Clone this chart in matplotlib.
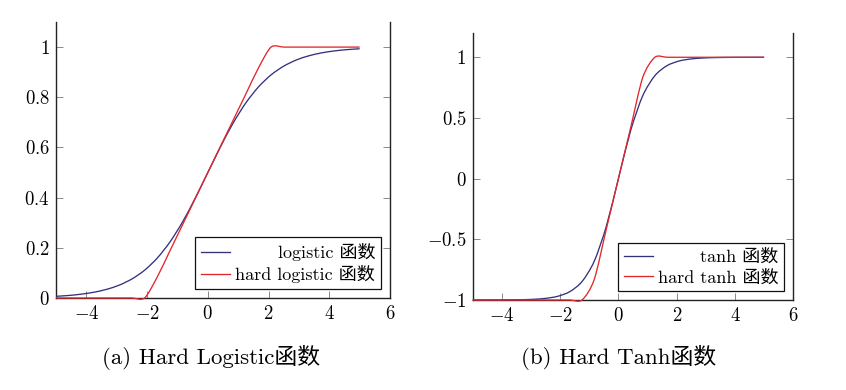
import matplotlib
matplotlib.use("Agg")
import matplotlib.pyplot as plt
from matplotlib.path import Path
from matplotlib.patches import PathPatch
from matplotlib.lines import Line2D

plt.rcParams['mathtext.fontset'] = 'cm'
plt.rcParams['font.family'] = ['cmr10', 'Noto Sans CJK SC', 'DejaVu Sans']
plt.rcParams['axes.unicode_minus'] = False

# ---- data (sample points, 25 samples on [-5, 5]) ----
x_samples = [-5.0, -4.583, -4.167, -3.75, -3.333, -2.917, -2.5, -2.083, -1.667,
             -1.25, -0.833, -0.417, 0.0, 0.417, 0.833, 1.25, 1.667, 2.083, 2.5,
             2.917, 3.333, 3.75, 4.167, 4.583, 5.0]
logistic_vals = [0.0067, 0.0101, 0.0153, 0.0230, 0.0345, 0.0513, 0.0759, 0.1107,
                 0.1589, 0.2227, 0.3029, 0.3973, 0.5, 0.6027, 0.6971, 0.7773,
                 0.8411, 0.8893, 0.9241, 0.9487, 0.9655, 0.9770, 0.9847, 0.9899,
                 0.9933]
hard_logistic_vals = [0, 0, 0, 0, 0, 0, 0, 0, 0.0833, 0.1875, 0.2917, 0.3958, 0.5,
                      0.6042, 0.7083, 0.8125, 0.9167, 1, 1, 1, 1, 1, 1, 1, 1]
tanh_vals = [-0.9999, -0.9998, -0.9995, -0.9989, -0.9975, -0.9942, -0.9866, -0.9695,
             -0.9310, -0.8483, -0.6825, -0.3942, 0.0, 0.3942, 0.6825, 0.8483,
             0.9310, 0.9695, 0.9866, 0.9942, 0.9975, 0.9989, 0.9995, 0.9998, 0.9999]
hard_tanh_vals = [-1, -1, -1, -1, -1, -1, -1, -1, -1, -1, -0.833, -0.417, 0.0,
                  0.417, 0.833, 1, 1, 1, 1, 1, 1, 1, 1, 1, 1]

x_ticks = [-4, -2, 0, 2, 4, 6]
y_ticks_a = [0, 0.2, 0.4, 0.6, 0.8, 1]
y_ticks_b = [-1, -0.5, 0, 0.5, 1]

labels_a = ['logistic 函数', 'hard logistic 函数']
labels_b = ['tanh 函数', 'hard tanh 函数']
caption_a = '(a) Hard Logistic函数'
caption_b = '(b) Hard Tanh函数'

BLUE = '#34327c'
RED = '#e3262b'
LW = 0.95


def smooth_path(xs, ys, k=0.14):
    """TikZ-like 'smooth' plot: cubic Bezier through the sample points."""
    pts = list(zip(xs, ys))
    n = len(pts)
    verts = [pts[0]]
    codes = [Path.MOVETO]
    for i in range(n - 1):
        p0 = pts[max(i - 1, 0)]
        p1 = pts[i]
        p2 = pts[i + 1]
        p3 = pts[min(i + 2, n - 1)]
        c1 = (p1[0] + k * (p2[0] - p0[0]), p1[1] + k * (p2[1] - p0[1]))
        c2 = (p2[0] - k * (p3[0] - p1[0]), p2[1] - k * (p3[1] - p1[1]))
        verts += [c1, c2, p2]
        codes += [Path.CURVE4] * 3
    return Path(verts, codes)


def fmt(v):
    return '$' + ('%g' % v) + '$'


fig = plt.figure(figsize=(8.46, 3.90), dpi=100)
axA = fig.add_axes([56 / 846, 1 - 298 / 390, (390 - 56) / 846, (298 - 22) / 390])
axB = fig.add_axes([472.7 / 846, 1 - 300 / 390, (793.3 - 472.7) / 846, (300 - 33) / 390])

legends = []
for ax, yv1, yv2, yt, ylim, labs in [
        (axA, logistic_vals, hard_logistic_vals, y_ticks_a, (0, 1.1), labels_a),
        (axB, tanh_vals, hard_tanh_vals, y_ticks_b, (-1, 1.2), labels_b)]:
    ax.add_patch(PathPatch(smooth_path(x_samples, yv1), fill=False,
                           edgecolor=BLUE, lw=LW, zorder=3, clip_on=False))
    ax.add_patch(PathPatch(smooth_path(x_samples, yv2), fill=False,
                           edgecolor=RED, lw=LW, zorder=3, clip_on=False))
    ax.set_xlim(-5, 6)
    ax.set_ylim(*ylim)
    ax.set_xticks(x_ticks)
    ax.set_xticklabels([fmt(v) for v in x_ticks])
    ax.set_yticks(yt)
    ax.set_yticklabels([fmt(v) for v in yt])
    ax.spines['top'].set_visible(False)
    for s in ['left', 'right', 'bottom']:
        ax.spines[s].set_linewidth(1.0)
        ax.spines[s].set_color('#222222')
    ax.tick_params(axis='both', which='both', direction='in', length=4.7,
                   width=0.7, color='#8a8a8a', labelsize=13.5, top=False,
                   right=True, labelright=False)
    ax.tick_params(axis='x', pad=5)
    ax.tick_params(axis='y', pad=4.5)
    handles = [Line2D([], [], color=BLUE, lw=LW), Line2D([], [], color=RED, lw=LW)]
    leg = ax.legend(handles, labs, loc='lower right', fontsize=13,
                    frameon=True, fancybox=False, framealpha=1,
                    edgecolor='#111111', borderpad=0.32, labelspacing=0.22,
                    handlelength=1.6, handletextpad=0.3, borderaxespad=0.5)
    leg.get_frame().set_linewidth(0.9)
    legends.append(leg)

# right-align legend labels (as in the reference)
fig.canvas.draw()
renderer = fig.canvas.get_renderer()
for leg in legends:
    texts = leg.get_texts()
    widths = [t.get_window_extent(renderer).width for t in texts]
    shift = max(widths)
    for t, w in zip(texts, widths):
        t.set_position((shift - w, 0))

fig.text(211 / 846, 1 - 357 / 390, caption_a, ha='center', va='center', fontsize=16.5)
fig.text(619 / 846, 1 - 357 / 390, caption_b, ha='center', va='center', fontsize=16.5)

fig.savefig('out.png', dpi=100)
